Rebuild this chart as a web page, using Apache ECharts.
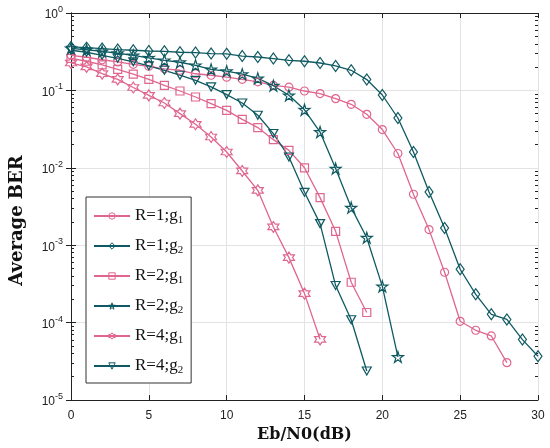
<!DOCTYPE html>
<html><head><meta charset="utf-8">
<script src="https://cdn.jsdelivr.net/npm/echarts@6/dist/echarts.min.js"></script>
<style>html,body{margin:0;padding:0;background:#fff}#c{width:550px;height:448px}</style>
</head><body><div id="c"></div>
<script>
// ---- data ----
const snrR1 = [0,1,2,3,4,5,6,7,8,9,10,11,12,13,14,15,16,17,18,19,20,21,22,23,24,25,26,27,28,29,30];
const berR1g1 = [0.284,0.268,0.249,0.233,0.217,0.205,0.190,0.182,0.164,0.157,0.148,0.139,0.129,0.116,0.110,0.0982,0.0909,0.0783,0.0661,0.0491,0.0312,0.0153,0.00455,0.00159,0.000447,0.000104,0.0000796,0.0000672,0.0000304];
const berR1g2 = [0.364,0.357,0.347,0.337,0.330,0.323,0.320,0.311,0.308,0.299,0.297,0.278,0.270,0.258,0.245,0.238,0.226,0.207,0.182,0.138,0.0872,0.0440,0.0160,0.00486,0.00167,0.000489,0.000232,0.000128,0.000110,0.0000603,0.0000367];
const berR2g1 = [0.260,0.238,0.214,0.187,0.162,0.139,0.116,0.0982,0.0822,0.0675,0.0553,0.0423,0.0331,0.0231,0.0168,0.0100,0.00412,0.00151,0.000332,0.000135];
const berR2g2 = [0.350,0.335,0.320,0.302,0.284,0.264,0.245,0.231,0.211,0.187,0.177,0.162,0.143,0.115,0.0864,0.0562,0.0290,0.00977,0.00306,0.00125,0.000294,0.000036];
const berR4g1 = [0.226,0.201,0.165,0.139,0.109,0.0864,0.0687,0.0501,0.0365,0.0250,0.0160,0.00910,0.00512,0.00172,0.000691,0.000237,0.0000608];
const berR4g2 = [0.330,0.311,0.284,0.260,0.234,0.208,0.182,0.157,0.135,0.111,0.0882,0.0687,0.0477,0.0277,0.0138,0.00482,0.00190,0.000301,0.000109,0.0000237];
const seriesNames = ['R=1;g1','R=1;g2','R=2;g1','R=2;g2','R=4;g1','R=4;g2'];
const xTicks = [0,5,10,15,20,25,30];
const minorMantissas = [2,3,4,5,6,7,8,9];
const decadeExps = [-5,-4,-3,-2,-1];

// ---- styles ----
const PINK = '#e0668f';
const TEAL = '#0f5a62';
const STAR5 = 'path://M50 0 L61.17 34.63 L97.55 34.55 L68.07 55.87 L79.39 90.45 L50 69 L20.61 90.45 L31.93 55.87 L2.45 34.55 L38.83 34.63 Z';
const HEX6 = 'path://M50 0 L64.43 25 L93.3 25 L78.87 50 L93.3 75 L64.43 75 L50 100 L35.57 75 L6.7 75 L21.13 50 L6.7 25 L35.57 25 Z';
const TRIDN = 'path://M0 0 L100 0 L50 86.6 Z';

const minorVals = [];
decadeExps.forEach(e => minorMantissas.forEach(m => minorVals.push(m * Math.pow(10, e))));

function pairs(ys){ return ys.map((v,i)=>[snrR1[i], v]); }
function mk(name, ys, color, symbol, size){
  return {
    name, type:'line', data: pairs(ys), symbol, symbolSize: size,
    showAllSymbol: true, animation:false,
    lineStyle:{color, width:1.3},
    itemStyle:{color:'rgba(255,255,255,0)', borderColor: color, borderWidth:1.2},
    emphasis:{disabled:true}
  };
}
const allSeries = [
  mk(seriesNames[0], berR1g1, PINK, 'circle', 8),
  mk(seriesNames[1], berR1g2, TEAL, 'diamond', [8,11]),
  mk(seriesNames[2], berR2g1, PINK, 'rect', 8),
  mk(seriesNames[3], berR2g2, TEAL, STAR5, 11),
  mk(seriesNames[4], berR4g1, PINK, HEX6, 11),
  mk(seriesNames[5], berR4g2, TEAL, TRIDN, [9,8])
];

const chart = echarts.init(document.getElementById('c'), null, {renderer:'canvas'});
const gridLine = {show:true, lineStyle:{color:'#e3e3e3', width:1}};
const axLine = {show:true, lineStyle:{color:'#222', width:1}};
const majTick = {show:true, inside:true, length:5, lineStyle:{color:'#222'}};
function minorAxis(pos){
  return {
    type:'log', logBase:10, min:1e-5, max:1, position:pos,
    axisLine:{show:false},
    axisTick:{show:true, inside:true, length:3, customValues: minorVals, lineStyle:{color:'#222'}},
    axisLabel:{show:false}, splitLine:{show:false}
  };
}
chart.setOption({
  backgroundColor:'#fff',
  animation:false,
  grid:{left:67, right:12, top:13, bottom:48, containLabel:false},
  legend:{
    orient:'vertical', left:86, top:197,
    backgroundColor:'#fff', borderColor:'#333', borderWidth:1, borderRadius:0,
    padding:[8,8,7,7], itemGap:9, itemWidth:36, itemHeight:8,
    itemStyle:{borderWidth:1},
    data: seriesNames,
    formatter: n => n.replace(/g(\d)$/, 'g{sub|$1}'),
    textStyle:{fontFamily:'Liberation Serif', fontSize:17, color:'#111', lineHeight:20,
      rich:{sub:{fontFamily:'Liberation Serif', fontSize:11, color:'#111', verticalAlign:'bottom', lineHeight:10, padding:[10,0,0,0]}}}
  },
  xAxis:[{
    type:'value', min:0, max:30, interval:5, position:'bottom',
    name:'Eb/N0(dB)', nameLocation:'middle', nameGap:27,
    nameTextStyle:{fontFamily:'DejaVu Serif', fontWeight:'bold', fontSize:16, color:'#111'},
    axisLine: axLine, axisTick: majTick,
    axisLabel:{fontFamily:'Liberation Sans', fontSize:12, color:'#222', margin:10},
    splitLine: gridLine
  },{
    type:'value', min:0, max:30, interval:5, position:'top',
    axisLine: axLine, axisTick: majTick,
    axisLabel:{show:false}, splitLine:{show:false}
  }],
  yAxis:[{
    type:'log', logBase:10, min:1e-5, max:1, position:'left',
    name:'Average BER', nameLocation:'middle', nameGap:45, nameRotate:90,
    nameTextStyle:{fontFamily:'DejaVu Serif', fontWeight:'bold', fontSize:18, color:'#111', padding:[0,28,0,0]},
    axisLine: axLine, axisTick: majTick,
    axisLabel:{fontFamily:'Liberation Sans', fontSize:12, color:'#222', margin:8,
      formatter: v => '{b|10}{sup|' + Math.round(Math.log10(v)) + '}',
      rich:{b:{fontFamily:'Liberation Sans', fontSize:12, color:'#222', verticalAlign:'bottom', lineHeight:16},
            sup:{fontFamily:'Liberation Sans', fontSize:9, color:'#222', verticalAlign:'top', lineHeight:16}}},
    splitLine: gridLine
  },{
    type:'log', logBase:10, min:1e-5, max:1, position:'right',
    axisLine: axLine, axisTick: majTick,
    axisLabel:{show:false}, splitLine:{show:false}
  }, minorAxis('left'), minorAxis('right')],
  series: allSeries
});
</script></body></html>
